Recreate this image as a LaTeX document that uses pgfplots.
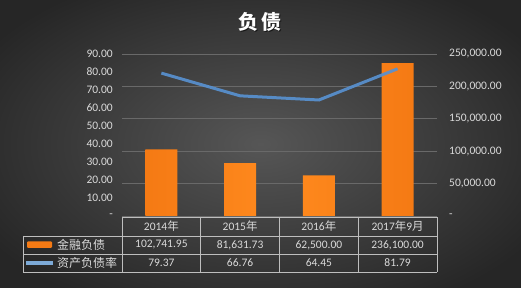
\documentclass[border=0pt]{standalone}
\usepackage{fontspec}
\setmainfont{Carlito}
\newfontfamily\cjk{Noto Sans CJK SC}
\usepackage{pgfplots}
\pgfplotsset{compat=1.18}

\definecolor{bgin}{RGB}{86,86,86}
\definecolor{bgout}{RGB}{38,38,38}
\definecolor{barc}{RGB}{245,122,20}
\definecolor{barlight}{RGB}{255,138,30}
\definecolor{linec}{RGB}{88,145,208}
\definecolor{legline}{RGB}{125,170,215}
\definecolor{gridc}{RGB}{105,105,105}
\definecolor{labc}{RGB}{218,218,218}
\definecolor{tabc}{RGB}{190,190,190}

\pgfplotstableread{
idx debt ratio
0 102741.95 79.37
1 81631.73 66.76
2 62500.00 64.45
3 236100.00 81.79
}\debttable

\newcommand{\lblfont}{\fontsize{11.5}{13}\selectfont}

\begin{document}
\begin{tikzpicture}[x=1pt,y=1pt]
\path[use as bounding box] (0,0) rectangle (521,288);
% background
\begin{scope}
  \clip (0,0) rectangle (521,288);
  \shade[inner color=bgin, outer color=bgout] (-60,-40) rectangle (581,328);
\end{scope}

% title
\node[text=black, opacity=0.6] at (261,265) {\cjk\bfseries\fontsize{20}{22}\selectfont 负\hspace{3pt}债};
\node[text=white] at (260,266) {\cjk\bfseries\fontsize{20}{22}\selectfont 负\hspace{3pt}债};

% bars: 金融负债 on the right axis
\begin{axis}[
  at={(122pt,72pt)}, anchor=south west, scale only axis,
  width=315pt, height=162pt,
  xmin=-0.5, xmax=3.5, ymin=0, ymax=250000,
  axis line style={draw=none}, xtick=\empty,
  yticklabel pos=right, major tick length=0pt,
  scaled y ticks=false,
  ytick={0,50000,100000,150000,200000,250000},
  yticklabels={{-},{50,000.00},{100,000.00},{150,000.00},{200,000.00},{250,000.00}},
  yticklabel style={anchor=west, xshift=12pt, inner sep=0pt, font=\lblfont, text=labc},
  ymajorgrids, grid style={draw=gridc, line width=0.6pt},
  ybar, bar width=32pt,
]
\addplot[draw=none, left color=barc, right color=barc, middle color=barlight] table[x=idx, y=debt] {\debttable};
\end{axis}

% line: 资产负债率 on the left axis
\begin{axis}[
  at={(122pt,72pt)}, anchor=south west, scale only axis,
  width=315pt, height=162pt,
  xmin=-0.5, xmax=3.5, ymin=0, ymax=90,
  axis line style={draw=none}, xtick=\empty,
  yticklabel pos=left, major tick length=0pt,
  ytick={0,10,...,90},
  yticklabels={{-\hspace{3pt}},10.00,20.00,30.00,40.00,50.00,60.00,70.00,80.00,90.00},
  yticklabel style={anchor=east, xshift=-9pt, inner sep=0pt, font=\lblfont, text=labc},
]
\addplot[linec, line width=3pt, no markers, opacity=0.92] table[x=idx, y=ratio] {\debttable};
\end{axis}

% data table
\begin{scope}[draw=tabc, line width=0.6pt]
  \draw (122,71) -- (437,71);
  \draw (23,52) -- (437,52);
  \draw (23,34) -- (437,34);
  \draw (23,16) -- (437,16);
  \draw (23,52) -- (23,16);
  \foreach \xx in {122,200.75,279.5,358.25,437} \draw (\xx,71) -- (\xx,16);
\end{scope}

\begin{scope}[every node/.style={text=labc, font=\lblfont, inner sep=0pt}]
  \node at (161.4,61.5) {2014{\cjk 年}};
  \node at (240.1,61.5) {2015{\cjk 年}};
  \node at (318.9,61.5) {2016{\cjk 年}};
  \node at (397.6,61.5) {2017{\cjk 年}9{\cjk 月}};
  \node at (161.4,43) {102,741.95};
  \node at (240.1,43) {81,631.73};
  \node at (318.9,43) {62,500.00};
  \node at (397.6,43) {236,100.00};
  \node at (161.4,25) {79.37};
  \node at (240.1,25) {66.76};
  \node at (318.9,25) {64.45};
  \node at (397.6,25) {81.79};
  \node[anchor=west, font=\cjk\fontsize{12}{14}\selectfont] at (57,43) {金融负债};
  \node[anchor=west, font=\cjk\fontsize{12}{14}\selectfont] at (57,25) {资产负债率};
\end{scope}
\fill[barc, rounded corners=1pt] (27,40) rectangle (52,46.5);
\draw[legline, line width=3.5pt] (26,25) -- (53,25);
\end{tikzpicture}
\end{document}
